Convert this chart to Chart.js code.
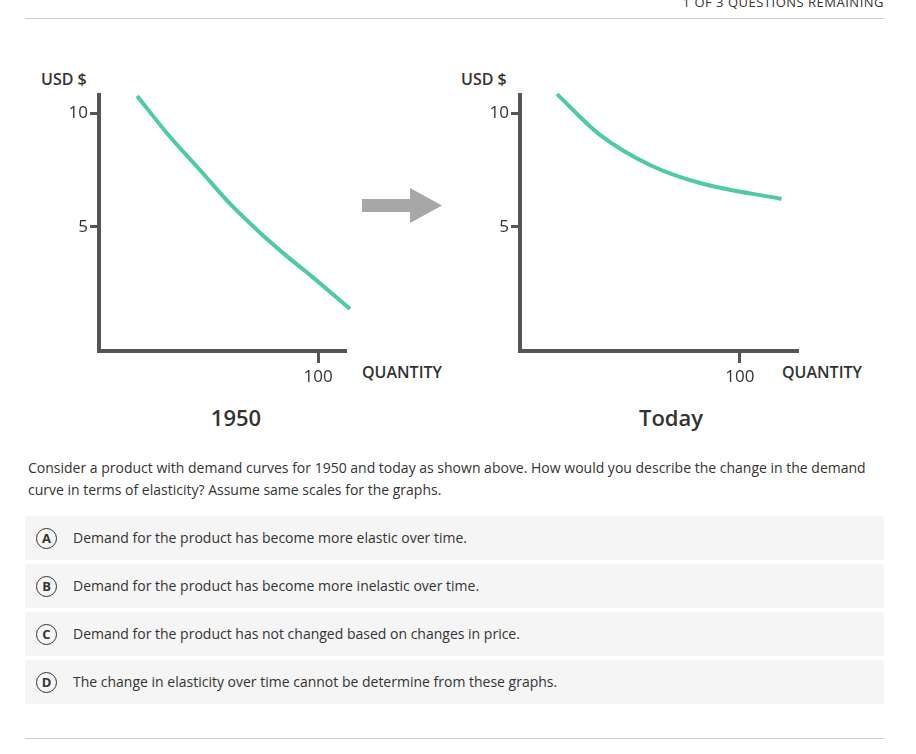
<!DOCTYPE html>
<html>
<head>
<meta charset="utf-8">
<script src="https://cdn.jsdelivr.net/npm/chart.js@4"></script>
<style>
  body { margin: 0; width: 916px; height: 754px; position: relative; font-family: "Open Sans", sans-serif; color: #333; background: #fff; overflow: hidden; }
  .abs { position: absolute; }
  .hr { position: absolute; left: 25px; width: 859px; height: 1px; background: #ccc; }
  .lbl { position: absolute; font-size: 16px; font-weight: 600; color: #333; }
  .year { position: absolute; font-size: 22px; font-weight: 600; color: #333; transform: translateX(-50%); }
  .opt { position: absolute; left: 25px; width: 859px; height: 44px; background: #f5f5f5; font-size: 14px; }
  .opt .b { position: absolute; display: block; box-sizing: border-box; left: 11px; top: 12px; width: 21px; height: 21px; border: 1.5px solid #333; border-radius: 50%; font-size: 13px; font-weight: 700; text-align: center; line-height: 18px; }
  .opt .t { position: absolute; left: 48px; top: 12px; }
</style>
</head>
<body>
<div class="abs" style="right:32px;top:-7px;font-size:13px;letter-spacing:0.5px;">1 OF 3 QUESTIONS REMAINING</div>
<div class="hr" style="top:18px"></div>

<div class="lbl" style="left:41px;top:68px">USD $</div>
<div class="lbl" style="left:461px;top:68px">USD $</div>
<div class="lbl" style="left:362px;top:361px">QUANTITY</div>
<div class="lbl" style="left:782px;top:361px">QUANTITY</div>
<div class="year" style="left:236px;top:402px">1950</div>
<div class="year" style="left:671px;top:402px">Today</div>

<canvas id="c1" class="abs" style="left:0;top:80px"></canvas>
<canvas id="c2" class="abs" style="left:421px;top:80px"></canvas>

<svg class="abs" style="left:362px;top:188px" width="82" height="36">
  <rect x="0" y="11" width="50" height="13" fill="#a5a7a8"/>
  <polygon points="48,0 80,17.5 48,35" fill="#a5a7a8"/>
</svg>

<div class="abs" style="left:28px;top:457px;width:850px;font-size:14px;line-height:22px;">Consider a product with demand curves for 1950 and today as shown above. How would you describe the change in the demand curve in terms of elasticity? Assume same scales for the graphs.</div>

<div class="opt" style="top:516px"><span class="b">A</span><span class="t">Demand for the product has become more elastic over time.</span></div>
<div class="opt" style="top:564px"><span class="b">B</span><span class="t">Demand for the product has become more inelastic over time.</span></div>
<div class="opt" style="top:612px"><span class="b">C</span><span class="t">Demand for the product has not changed based on changes in price.</span></div>
<div class="opt" style="top:660px"><span class="b">D</span><span class="t">The change in elasticity over time cannot be determine from these graphs.</span></div>
<div class="hr" style="top:738px"></div>

<script>
const qty1950 = [17.4, 32, 46.1, 60, 73.5, 86, 96.3, 114.6];
const price1950 = [10.75, 9.0, 7.5, 6.0, 4.75, 3.7, 2.9, 1.4];
const qtyToday = [16.8, 36.4, 59.1, 81.8, 119];
const priceToday = [10.83, 9.04, 7.72, 6.93, 6.23];
const priceTicks = [5, 10];
const qtyTicks = [100];

function drawChart(id, xs, ys, width, xMax, rightPad) {
  const ctx = document.getElementById(id);
  ctx.width = width;
  ctx.height = 320;
  ctx.style.width = width + 'px';
  ctx.style.height = '320px';
  new Chart(ctx, {       // eslint-disable-line
    type: 'line',
    data: {
      datasets: [{
        data: xs.map((x, i) => ({ x, y: ys[i] })),
        borderColor: '#4fcb9f',
        borderWidth: 4,
        pointRadius: 0,
        fill: false,
        cubicInterpolationMode: 'monotone',
        clip: false,
      }],
    },
    options: {
      responsive: false,
      animation: false,
      layout: { padding: { top: 15, right: rightPad, left: 0, bottom: 0 } },
      plugins: { legend: { display: false }, tooltip: { enabled: false } },
      scales: {
        x: {
          type: 'linear', min: 0, max: xMax,
          afterBuildTicks: (s) => { s.ticks = qtyTicks.map(v => ({ value: v })); },
          afterFit: (s) => { s.height = 49; },
          border: { color: '#555', width: 4 },
          grid: { drawOnChartArea: false, color: '#555', lineWidth: 3, tickLength: 12 },
          ticks: { color: '#333', font: { family: 'Open Sans', size: 17 }, padding: 4 },
        },
        y: {
          min: -0.44, max: 10.79,
          afterBuildTicks: (s) => { s.ticks = priceTicks.map(v => ({ value: v })); },
          afterFit: (s) => { s.width = 99; },
          border: { color: '#555', width: 4 },
          grid: { drawOnChartArea: false, color: '#555', lineWidth: 3, tickLength: 9 },
          ticks: { color: '#333', font: { family: 'Open Sans', size: 17 }, padding: 2 },
        },
      },
    },
  });
}

drawChart('c1', qty1950, price1950, 400, 112.3, 55);
drawChart('c2', qtyToday, priceToday, 420, 126, 44);
</script>
</body>
</html>
